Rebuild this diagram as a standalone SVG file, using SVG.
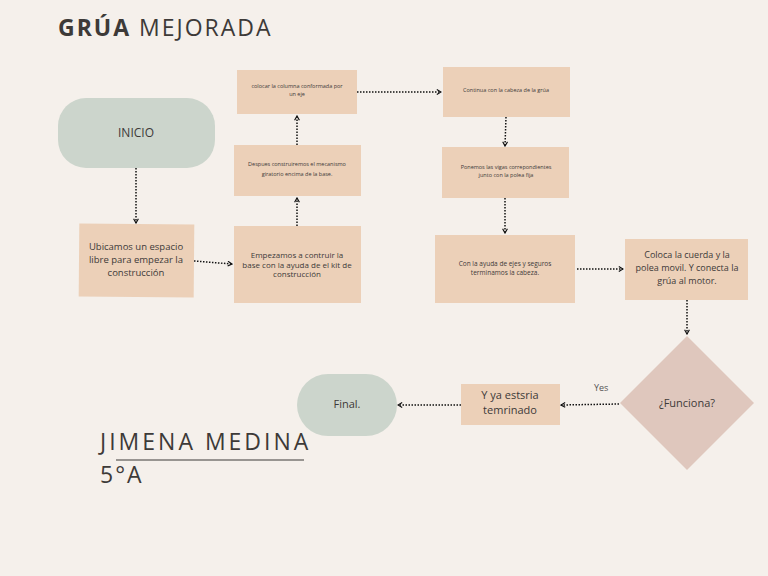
<svg xmlns="http://www.w3.org/2000/svg" width="768" height="576" viewBox="0 0 768 576">
<defs>
<style>
.b{fill:#ecd0b8}
.t{font-family:"Open Sans","Liberation Sans",sans-serif;fill:#3d3a38;text-anchor:middle}
.c{stroke:#111;stroke-width:1.5;stroke-dasharray:1.5 1.5;fill:none;marker-end:url(#a)}
</style>
<marker id="a" viewBox="0 0 10 10" refX="8" refY="5" markerWidth="4" markerHeight="4" orient="auto"><path d="M1,1L8,5L1,9" fill="none" stroke="#111" stroke-width="2"/></marker>
</defs>
<rect width="768" height="576" fill="#f5f0eb"/>
<text x="58" y="36" font-family="'Open Sans','Liberation Sans',sans-serif" font-size="23" letter-spacing="2" fill="#3d3a38"><tspan font-weight="bold">GRÚA</tspan> MEJORADA</text>
<g id="inicio"><rect x="58" y="98" width="157" height="70" rx="28" fill="#ccd5cc"/><text class="t" x="136" y="137" font-size="12">INICIO</text></g>
<g id="n1"><rect class="b" x="79" y="224" width="115" height="73" transform="rotate(0.5 136 260)"/><text class="t" font-size="9.5"><tspan x="136" y="250">Ubicamos un espacio</tspan><tspan x="136" y="263">libre para empezar la</tspan><tspan x="136" y="276">construcción</tspan></text></g>
<g id="n2"><rect class="b" x="234" y="226" width="127" height="77"/><text class="t" font-size="8"><tspan x="297" y="258">Empezamos a contruir la</tspan><tspan x="297" y="267.5">base con la ayuda de el kit de</tspan><tspan x="297" y="277">construcción</tspan></text></g>
<g id="n3"><rect class="b" x="234" y="145" width="127" height="51"/><text class="t" font-size="5.5"><tspan x="297" y="166">Despues construiremos el mecanismo</tspan><tspan x="297" y="176">giratorio encima de la base.</tspan></text></g>
<g id="n4"><rect class="b" x="237" y="70" width="120" height="44"/><text class="t" font-size="5.5"><tspan x="297" y="88">colocar la columna conformada por</tspan><tspan x="297" y="96">un eje</tspan></text></g>
<g id="n5"><rect class="b" x="443" y="67" width="127" height="50"/><text class="t" font-size="5.5"><tspan x="506" y="92">Continua con la cabeza de la grúa</tspan></text></g>
<g id="n6"><rect class="b" x="442" y="147" width="127" height="51"/><text class="t" font-size="5.5"><tspan x="506" y="169">Ponemos las vigas correpondientes</tspan><tspan x="506" y="177">junto con la polea fija</tspan></text></g>
<g id="n7"><rect class="b" x="435" y="235" width="140" height="68"/><text class="t" font-size="6.5"><tspan x="505" y="266">Con la ayuda de ejes y seguros</tspan><tspan x="505" y="275">terminamos la cabeza.</tspan></text></g>
<g id="n8"><rect class="b" x="625" y="239" width="123" height="61"/><text class="t" font-size="9"><tspan x="687" y="258">Coloca la cuerda y la</tspan><tspan x="687" y="271">polea movil.  Y conecta la</tspan><tspan x="687" y="284">grúa al motor.</tspan></text></g>
<g id="d"><path d="M687,336L754,403L687,470L620,403Z" fill="#dfc7bd"/><text class="t" x="687" y="407" font-size="11">¿Funciona?</text></g>
<g id="n9"><rect class="b" x="461" y="384" width="99" height="41"/><text class="t" font-size="11"><tspan x="510" y="399">Y ya estsria</tspan><tspan x="510" y="414">temrinado</tspan></text></g>
<g id="fin"><rect x="297" y="374" width="100" height="62" rx="31" fill="#ccd5cc"/><text class="t" x="347" y="408" font-size="11">Final.</text></g>
<text x="594" y="391" font-family="'Open Sans','Liberation Sans',sans-serif" font-size="9" fill="#555">Yes</text>
<g id="connectors">
<path class="c" d="M136,168V223"/>
<path class="c" d="M194,261L232,264"/>
<path class="c" d="M297,226V198"/>
<path class="c" d="M297,145V116"/>
<path class="c" d="M357,92H441"/>
<path class="c" d="M506,117L505,146"/>
<path class="c" d="M505,198V233"/>
<path class="c" d="M577,269H623"/>
<path class="c" d="M687,300V334"/>
<path class="c" d="M619,404L561,405"/>
<path class="c" d="M461,405H398"/>
</g>
<text x="100" y="450" font-family="'Open Sans','Liberation Sans',sans-serif" font-size="23" letter-spacing="3" fill="#3d3a38">JIMENA MEDINA</text>
<line x1="116" y1="460" x2="304" y2="460" stroke="#3d3a38"/>
<text x="100" y="483" font-family="'Open Sans','Liberation Sans',sans-serif" font-size="23" letter-spacing="2" fill="#3d3a38">5°A</text>
</svg>
